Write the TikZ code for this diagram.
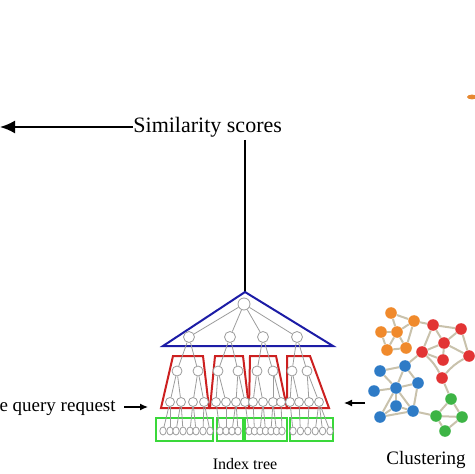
\documentclass[tikz,border=0pt]{standalone}
\usepackage{fontspec}
\setmainfont{Liberation Serif}
\usetikzlibrary{arrows.meta,shapes.geometric}
\definecolor{treeblue}{HTML}{1C1CA6}
\definecolor{treered}{HTML}{CC2020}
\definecolor{treegreen}{HTML}{3AD83A}
\definecolor{treegray}{HTML}{9C9C9C}
\definecolor{corange}{HTML}{F08A2C}
\definecolor{cred}{HTML}{E23434}
\definecolor{cblue}{HTML}{2E7BC6}
\definecolor{cgreen}{HTML}{3DB445}
\definecolor{linkgray}{HTML}{C9C2AC}

\begin{document}
\begin{tikzpicture}[x=0.5pt, y=-0.5pt]
                            \tikzset{tn/.style={draw=treegray, fill=white, circle, inner sep=0pt, line width=0.4pt, minimum size=5pt},
                                     leaf/.style={draw=treegray, fill=white, ellipse, inner sep=0pt, line width=0.4pt, minimum width=3.2pt, minimum height=4pt},
                                     tl/.style={draw=treegray, line width=0.4pt},
                                     gn/.style={circle, inner sep=0pt, minimum size=5.8pt},
                                     link/.style={draw=linkgray, line width=1pt},
                                     lbl/.style={inner sep=0pt, font=\fontsize{9.5}{11}\selectfont}}
                            \useasboundingbox (0,0) rectangle (474,474);
                            % scores
                            \node[inner sep=0pt, anchor=west, font=\fontsize{11}{13}\selectfont] (sim) at (133,127) {Similarity scores};
                            \coordinate (out) at (0,127);
                            \coordinate (apex) at (245,292);
                            \draw[-{Latex[length=7.5pt,width=6.5pt]}, line width=1pt] (sim) -- (out);
                            \draw[line width=1pt] (apex |- 0,140) -- (apex);
                            \fill[corange!80!brown] (472,97) ellipse (2.5pt and 1.2pt);
                            % index tree outlines
                            \draw[treeblue, line width=1pt] (apex) -- (333,346) -- (163,346) -- cycle;
                            \draw[treered, line width=1pt] (173,356) -- (203,356) -- (209,408) -- (161,408) -- cycle;
                            \draw[treered, line width=1pt] (215,356) -- (243,356) -- (249,408) -- (210,408) -- cycle;
                            \draw[treered, line width=1pt] (250,356) -- (276,356) -- (287,408) -- (249,408) -- cycle;
                            \draw[treered, line width=1pt] (287,356) -- (310,356) -- (329,408) -- (287,408) -- cycle;
                            \draw[treegreen, line width=0.9pt] (156,418) rectangle (213,441);
                            \draw[treegreen, line width=0.9pt] (217,418) rectangle (243,441);
                            \draw[treegreen, line width=0.9pt] (245,418) rectangle (287,441);
                            \draw[treegreen, line width=0.9pt] (290,418) rectangle (333,441);
                            % index tree nodes
                            \node[tn, minimum size=6pt] (root) at (244,304) {};
                            \foreach \x [count=\i] in {189,230,263,297}
                                \node[tn, minimum size=5.5pt] (a\i) at (\x,337) {};
                            \foreach \x [count=\i] in {177,198,218,238,257,273,292,307}
                                \node[tn] (b\i) at (\x,371) {};
                            \foreach \x [count=\i] in {170,181,193,204,216,226,236,245,253,263,273,281,290,299,309,319}
                                \node[tn, minimum size=4.5pt] (c\i) at (\x,402) {};
                            \foreach \i in {1,...,4}
                                \draw[tl] (root) -- (a\i);
                            \foreach \j/\p in {1/1,2/1,3/2,4/2,5/3,6/3,7/4,8/4}
                                \draw[tl] (a\p) -- (b\j);
                            \foreach \k/\p in {1/1,2/1,3/2,4/2,5/3,6/3,7/4,8/4,9/5,10/5,11/6,12/6,13/7,14/7,15/8,16/8}
                                \draw[tl] (b\p) -- (c\k);
                            \foreach \x/\p [count=\i] in {163/1,170/1,176/2,183/2,190/3,196/3,203/4,210/4,
                                                        220/5,226/6,232/7,238/7,
                                                        249/8,254.5/9,260/10,265.5/10,271/11,276.5/11,282/12,
                                                        293/13,300.4/14,307.8/15,315.2/16,322.6/16,330/16}
                                {\node[leaf] (l\i) at (\x,431) {};
                                 \draw[tl] (c\p) -- (l\i);}
                            \node[inner sep=0pt, font=\fontsize{8}{10}\selectfont] (idx) at (245,464) {Index tree};
                            % query
                            \node[lbl, anchor=east] (qry) at (116,408) {e query request};
                            \coordinate (qin) at (148,407);
                            \draw[-{Latex[length=4pt,width=3.5pt]}, line width=0.6pt] (124,407) -- (qin);
                            % clustering
                            \node[gn, fill=corange] (o1) at (391,313) {};
                            \node[gn, fill=corange] (o2) at (414,321) {};
                            \node[gn, fill=corange] (o3) at (397,332) {};
                            \node[gn, fill=corange] (o4) at (381,332) {};
                            \node[gn, fill=corange] (o5) at (387,350) {};
                            \node[gn, fill=corange] (o6) at (406,348) {};
                            \node[gn, fill=cred] (r1) at (433,325) {};
                            \node[gn, fill=cred] (r2) at (461,329) {};
                            \node[gn, fill=cred] (r3) at (444,343) {};
                            \node[gn, fill=cred] (r4) at (422,352) {};
                            \node[gn, fill=cred] (r5) at (443,360) {};
                            \node[gn, fill=cred] (r6) at (469,356) {};
                            \node[gn, fill=cred] (r7) at (442,378) {};
                            \node[gn, fill=cblue] (b1) at (380,371) {};
                            \node[gn, fill=cblue] (b2) at (405,366) {};
                            \node[gn, fill=cblue] (b3) at (374,391) {};
                            \node[gn, fill=cblue] (b4) at (396,388) {};
                            \node[gn, fill=cblue] (b5) at (418,383) {};
                            \node[gn, fill=cblue] (b6) at (396,406) {};
                            \node[gn, fill=cblue] (b7) at (413,411) {};
                            \node[gn, fill=cblue] (b8) at (380,417) {};
                            \node[gn, fill=cgreen] (g1) at (451,399) {};
                            \node[gn, fill=cgreen] (g2) at (436,416) {};
                            \node[gn, fill=cgreen] (g3) at (462,417) {};
                            \node[gn, fill=cgreen] (g4) at (445,431) {};
                            \path[link]
                                (o1) edge (o2) edge (o3)
                                (o2) edge (o3) edge (o6) edge (r1)
                                (o3) edge (o4) edge (o5) edge (o6)
                                (o4) edge (o5)
                                (o5) edge (o6)
                                (r1) edge (r2) edge (r3) edge (r4)
                                (r2) edge (r3) edge (r6)
                                (r3) edge (r4) edge (r5) edge (r6)
                                (r4) edge (r5) edge [bend left=10] (r7) edge (b2)
                                (r6) edge [bend right=10] (r7)
                                (r7) edge (g1)
                                (b1) edge (b2) edge (b4)
                                (b2) edge (b4) edge (b5)
                                (b4) edge (b3) edge (b5) edge (b6) edge (b7) edge (b8)
                                (b5) edge (b7)
                                (b6) edge (b7) edge (b8)
                                (b7) edge (b8) edge (g2)
                                (g1) edge (g2) edge (g3)
                                (g2) edge (g3) edge (g4)
                                (g3) edge (g4);
                            \node[lbl] (clu) at (426,460) {Clustering};
                            \coordinate (cin) at (344,403);
                            \draw[-{Latex[length=4pt,width=3.5pt]}, line width=0.6pt] (365,403) -- (cin);
                        \end{tikzpicture}
\end{document}
